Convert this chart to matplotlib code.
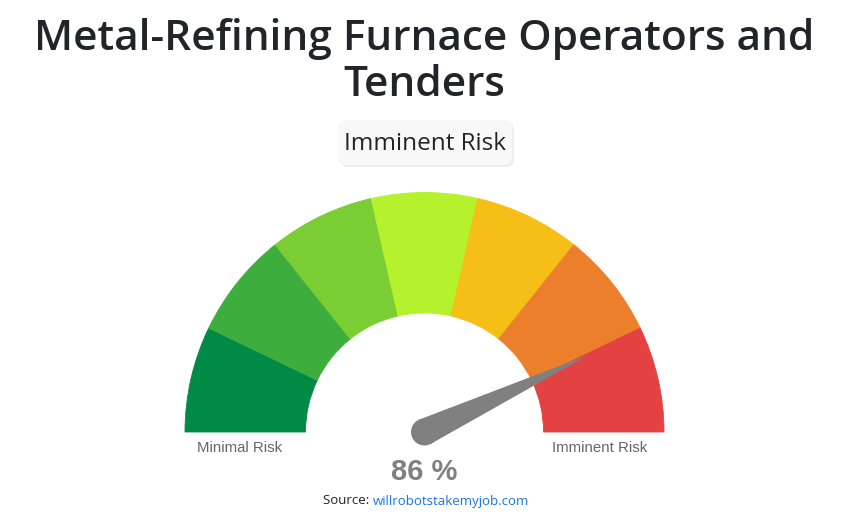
import numpy as np
import matplotlib
matplotlib.use("Agg")
import matplotlib.pyplot as plt
from matplotlib.patches import Wedge, Circle, Polygon, FancyBboxPatch

title = "Metal-Refining Furnace Operators and\nTenders"
risk_label = "Imminent Risk"
value = 86  # percent
band_colors = ["#008a45", "#3dad3e", "#7acd33", "#b5f12d", "#f5bf18", "#eb7f2c", "#e44242"]
left_label = "Minimal Risk"
right_label = "Imminent Risk"
source_host = "willrobotstakemyjob.com"

W, H = 848, 519
fig = plt.figure(figsize=(W / 100, H / 100), dpi=100)
ax = fig.add_axes([0, 0, 1, 1])
ax.set_xlim(0, W)
ax.set_ylim(H, 0)
ax.set_aspect("equal")
ax.axis("off")

# gauge geometry in pixels
cx, cy = 424.5, 432
r_out, r_in = 239.5, 119

n = len(band_colors)
step = 180.0 / n
for i, col in enumerate(band_colors):
    # y axis is inverted, so angles go clockwise; draw from left (180) to right (360)
    t1 = 180 + i * step
    t2 = 180 + (i + 1) * step
    ax.add_patch(Wedge((cx, cy), r_out, t1, t2, width=r_out - r_in,
                       facecolor=col, edgecolor=col, lw=0.6))

# needle
ang = np.radians(180 + value / 100 * 180)
ux, uy = np.cos(ang), np.sin(ang)
px, py = -uy, ux
L, hw = 181, 13.5
tip = (cx + L * ux, cy + L * uy)
pts = [(cx + hw * px, cy + hw * py), tip, (cx - hw * px, cy - hw * py)]
ax.add_patch(Polygon(pts, closed=True, facecolor="#808080", edgecolor="none"))
ax.add_patch(Circle((cx, cy), hw, facecolor="#808080", edgecolor="none"))

# title
ax.text(W / 2, 62, title, ha="center", va="center", fontsize=30.5,
        family="Open Sans", weight="semibold", color="#212529",
        linespacing=1.12)

# badge
ax.add_patch(FancyBboxPatch((340, 122), 174, 45,
                            boxstyle="round,pad=0,rounding_size=8",
                            facecolor="#e4e4e4", edgecolor="none", alpha=0.6))
ax.add_patch(FancyBboxPatch((338, 120), 174, 45,
                            boxstyle="round,pad=0,rounding_size=8",
                            facecolor="#f8f8f8", edgecolor="none"))
ax.text(425, 144, risk_label, ha="center", va="center", fontsize=17.5,
        family="Open Sans", color="#212529")

# end labels
ax.text(240, 448, left_label, ha="center", va="center", fontsize=10.8,
        family="Liberation Sans", color="#666666")
ax.text(600, 448, right_label, ha="center", va="center", fontsize=10.8,
        family="Liberation Sans", color="#666666")

# value
ax.text(cx, 472, f"{value} %", ha="center", va="center", fontsize=21,
        family="Liberation Sans", weight="bold", color="#808080")

# source line
t = ax.text(323, 501, "Source: ", ha="left", va="center", fontsize=9.5,
            family="Open Sans", color="#222222")
fig.canvas.draw()
bb = t.get_window_extent()
x_end = ax.transData.inverted().transform((bb.x1, bb.y0))[0]
ax.text(x_end, 501, source_host, ha="left", va="center", fontsize=9.5,
        family="Open Sans", color="#1a73e8")

fig.savefig("out.png", dpi=100)
